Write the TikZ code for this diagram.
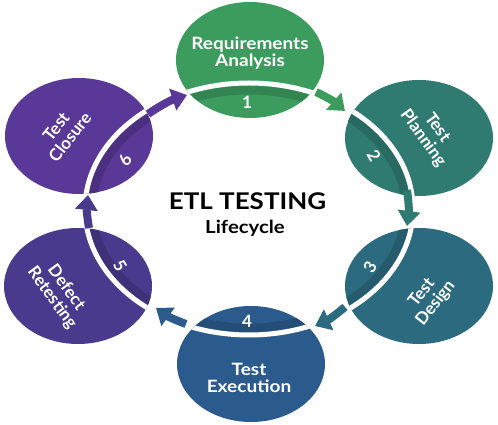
\documentclass[tikz,border=0pt]{standalone}
\usepackage{fontspec}
\setmainfont{Lato}
\usetikzlibrary{shapes.geometric,arrows.meta}
\definecolor{cgreen}{HTML}{3B9C5E}
\definecolor{cteal}{HTML}{2F7B72}
\definecolor{cpetrol}{HTML}{2C6B7F}
\definecolor{cblue}{HTML}{2B5B8D}
\definecolor{cindigo}{HTML}{4A3A8D}
\definecolor{cviolet}{HTML}{5A3897}
\tikzset{
  circ/.style={ellipse, minimum width=148pt, minimum height=116pt, inner sep=0pt, fill=#1},
  lbl/.style={text=white, font=\bfseries\fontsize{17}{17.5}\selectfont, align=center, inner sep=0pt, xscale=1.12},
  rlbl/.style={text=white, font=\bfseries\fontsize{17}{17.5}\selectfont, align=center, inner sep=0pt},
  num/.style={text=white, font=\bfseries\fontsize{17}{17}\selectfont, inner sep=0pt},
  flow/.style={line width=8pt, draw=#1, -{Triangle[width=22pt,length=15pt]}, bend left=8},
  title/.style={text=black, font=\bfseries\fontsize{23}{23}\selectfont, inner sep=0pt, xscale=1.13},
  subtitle/.style={text=black, font=\bfseries\fontsize{18}{18}\selectfont, inner sep=0pt, xscale=1.13},
}
\newcommand{\bandcut}[2]{%
  \begin{scope}
    \clip (#1) ellipse [x radius=74pt, y radius=58pt];
    \draw[line width=9pt, #2!85!black] (ringc) ellipse [x radius=157pt, y radius=119pt];
    \draw[line width=5pt, white] (ringc) ellipse [x radius=164pt, y radius=126pt];
  \end{scope}}
\begin{document}
\begin{tikzpicture}[x=1pt,y=1pt]
\useasboundingbox (0,0) rectangle (498,425);
\fill[white] (0,0) rectangle (498,425);
\coordinate (ringc) at (249,216);
% circles
\node[circ=cgreen]  (c1) at (250,365) {};
\node[circ=cteal]   (c2) at (419,287) {};
\node[circ=cpetrol] (c3) at (419,139) {};
\node[circ=cblue]   (c4) at (251,61) {};
\node[circ=cindigo] (c5) at (78,139) {};
\node[circ=cviolet] (c6) at (79,289) {};
\bandcut{c1.center}{cgreen}
\bandcut{c2.center}{cteal}
\bandcut{c3.center}{cpetrol}
\bandcut{c4.center}{cblue}
\bandcut{c5.center}{cindigo}
\bandcut{c6.center}{cviolet}
% arrow end points
\coordinate (a12s) at (316,333); \coordinate (a12e) at (345,314);
\coordinate (a23s) at (407,235); \coordinate (a23e) at (407,199);
\coordinate (a34s) at (345,118); \coordinate (a34e) at (315,99);
\coordinate (a45s) at (186,101); \coordinate (a45e) at (156,117);
\coordinate (a56s) at (89,197);  \coordinate (a56e) at (88,230);
\coordinate (a61s) at (148,311); \coordinate (a61e) at (187,330);
\draw[flow=cgreen]  (a12s) to (a12e);
\draw[flow=cteal]   (a23s) to (a23e);
\draw[flow=cpetrol] (a34s) to (a34e);
\draw[flow=cblue]   (a45s) to (a45e);
\draw[flow=cindigo] (a56s) to (a56e);
\draw[flow=cviolet] (a61s) to (a61e);
% labels
\node[lbl] (t1) at (250,372) {Requirements\\Analysis};
\node[rlbl, rotate=-54] (t2) at (430,292) {Test\\Planning};
\node[rlbl, rotate=52] (t3) at (429,127) {Test\\Design};
\node[lbl] (t4) at (249,47) {Test\\Execution};
\node[rlbl, rotate=-54] (t5) at (59,132) {Defect\\Retesting};
\node[rlbl, rotate=52] (t6) at (63,293) {Test\\Closure};
\node[num] (n1) at (247,323) {1};
\node[num, rotate=-60] (n2) at (374,269) {2};
\node[num, rotate=60] (n3) at (370,158) {3};
\node[num] (n4) at (247,104) {4};
\node[num, rotate=-60] (n5) at (120,159) {5};
\node[num, rotate=60] (n6) at (125,265) {6};
\node[title] (etl) at (247.5,224) {ETL TESTING};
\node[subtitle] (life) at (245,197) {Lifecycle};
\end{tikzpicture}
\end{document}
